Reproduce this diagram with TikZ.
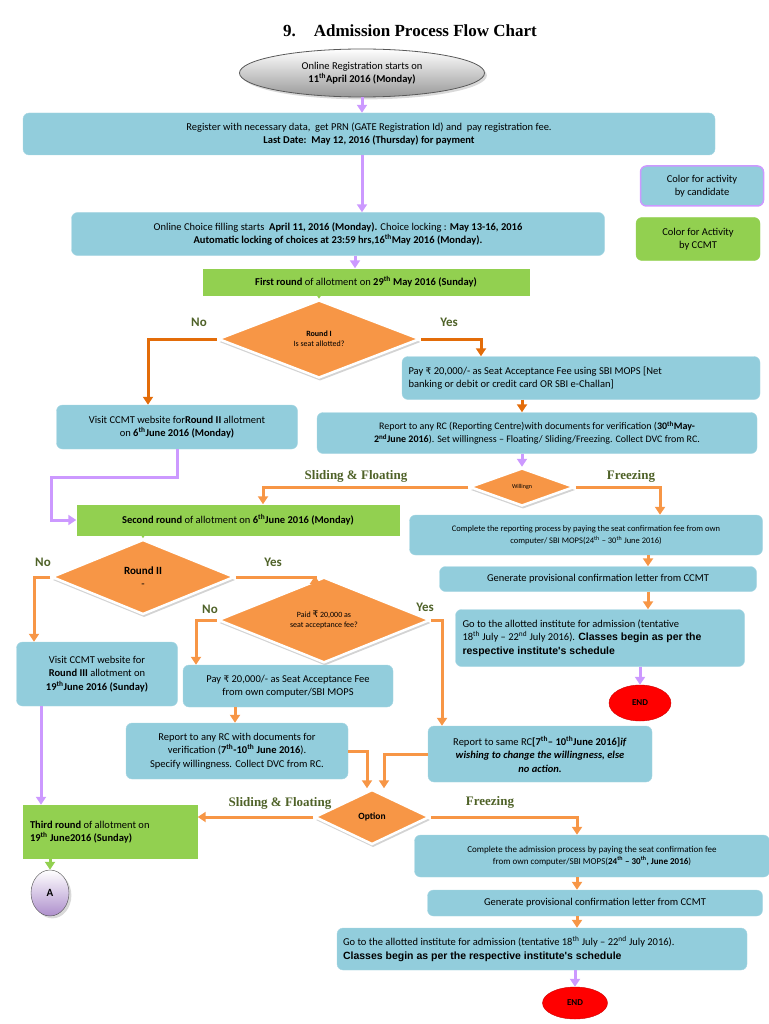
\documentclass[tikz,border=0pt]{standalone}
\usepackage{fontspec}
\setmainfont{Carlito}
\newfontfamily\serifb{Liberation Serif}
\newfontfamily\rup{DejaVu Sans}
\usetikzlibrary{shapes.geometric,shadows,arrows.meta}
\definecolor{boxc}{HTML}{92CDDC}
\definecolor{grn}{HTML}{92D050}
\definecolor{org}{HTML}{F79646}
\definecolor{dorg}{HTML}{E36C09}
\definecolor{pur}{HTML}{CC99FF}
\definecolor{olv}{HTML}{4F6228}
\newcommand{\Rs}{{\rup\small ₹}}
\begin{document}
\begin{tikzpicture}[x=1pt,y=-1pt,
  box/.style={rectangle,rounded corners=6pt,fill=boxc,draw=boxc!80!white,align=center,inner sep=2pt,font=\fontsize{10.5}{13.5}\selectfont},
  gbox/.style={rectangle,fill=grn,align=center,inner sep=2pt,font=\fontsize{10.5}{13.5}\selectfont\bfseries},
  dia/.style={diamond,fill=org,draw=white,line width=2.5pt,drop shadow={opacity=0.35,shadow xshift=1pt,shadow yshift=-3pt},align=center,inner sep=0pt,font=\fontsize{8}{10}\selectfont},
  arr/.style={line width=3pt,-{Triangle[length=8pt,width=10pt]}},
  oa/.style={arr,draw=org},
  da/.style={arr,draw=dorg},
  pa/.style={arr,draw=pur},
  ga/.style={arr,draw=grn},
  yn/.style={font=\fontsize{13}{15}\selectfont\bfseries,text=olv},
  sf/.style={font=\serifb\fontsize{13}{15}\selectfont\bfseries,text=olv}]
\useasboundingbox (0,0) rectangle (768,1024);
\node[font=\serifb\fontsize{17}{20}\selectfont\bfseries] (title) at (410,31) {9.\hspace{18pt}Admission Process Flow Chart};
\node[ellipse,minimum width=245pt,minimum height=48pt,draw=gray!70!black,thick,top color=white,bottom color=gray!80,shading angle=0,drop shadow={opacity=0.3},align=center,font=\fontsize{10.5}{13}\selectfont] (start) at (362,73) {Online Registration starts on\\\textbf{11\textsuperscript{th}April 2016 (Monday)}};
\node[box,minimum width=692pt,minimum height=42pt] (reg) at (369,134) {Register with necessary data,\ \ get PRN (GATE Registration Id) and\ \ pay registration fee.\\\textbf{Last Date:\ \ May 12, 2016 (Thursday) for payment}};
\node[box,draw=pur,line width=1.5pt,minimum width=123pt,minimum height=40pt] (leg1) at (702,186) {Color for activity\\by candidate};
\node[box,fill=grn,draw=grn,minimum width=124pt,minimum height=43pt] (leg2) at (698,239) {Color for Activity\\by CCMT};
\node[box,minimum width=533pt,minimum height=43pt] (choice) at (338,234) {Online Choice filling starts\ \ \textbf{April 11, 2016 (Monday). }Choice locking : \textbf{May 13-16, 2016}\\\textbf{Automatic locking of choices at 23:59 hrs,16\textsuperscript{th}May 2016 (Monday).}};
\node[gbox,minimum width=327pt,minimum height=27pt] (first) at (366,282) {First round {\mdseries of allotment on} 29\textsuperscript{th} May 2016 (Sunday)};
\node[dia,minimum width=202pt,minimum height=78pt] (d1) at (319,339) {\textbf{Round I}\\Is seat allotted?};
\node[box,minimum width=358pt,minimum height=43pt,align=left] (pay) at (581,378) {\parbox{345pt}{Pay \Rs\ 20,000/- as Seat Acceptance Fee using SBI MOPS [Net\\banking or debit or credit card OR SBI e-Challan]}};
\node[box,minimum width=241pt,minimum height=44pt] (visit2) at (177,427) {Visit CCMT website for\textbf{Round II} allotment\\on \textbf{6\textsuperscript{th}June 2016 (Monday)}};
\node[box,minimum width=440pt,minimum height=41pt,font=\fontsize{10}{13}\selectfont] (report) at (537,433) {Report to any RC (Reporting Centre)with documents for verification (\textbf{30\textsuperscript{th}May-}\\\textbf{2\textsuperscript{nd}June 2016}). Set willingness -- Floating/ Sliding/Freezing. Collect DVC\ from RC.};
\node[dia,minimum width=105pt,minimum height=38pt,font=\fontsize{6}{7}\selectfont] (dw) at (522,487) {Willingn};
\node[gbox,minimum width=323pt,minimum height=31pt] (second) at (238,520) {Second round {\mdseries of allotment on} 6\textsuperscript{th}June 2016 (Monday)};
\node[box,minimum width=353pt,minimum height=40pt,font=\fontsize{8.5}{11.5}\selectfont] (compR) at (586,535) {Complete the reporting process by paying the seat confirmation\ fee from own\\computer/ SBI MOPS(24\textsuperscript{th} -- 30\textsuperscript{th} June 2016)};
\node[box,minimum width=317pt,minimum height=25pt] (gen1) at (598,579) {Generate provisional confirmation letter from CCMT};
\node[box,minimum width=289pt,minimum height=57pt,align=left] (go1) at (600,638) {\parbox{275pt}{Go to the allotted institute for admission (tentative\\18\textsuperscript{th} July -- 22\textsuperscript{nd} July 2016). {\fontspec{Liberation Sans}\bfseries Classes begin as per the\\respective institute's schedule}}};
\node[ellipse,fill=red,draw=red!80!black,minimum width=62pt,minimum height=36pt,font=\fontsize{9}{11}\selectfont\bfseries] (end1) at (640,703) {END};
\node[dia,minimum width=183pt,minimum height=75pt,font=\fontsize{11}{13}\selectfont] (d2) at (143,577) {\textbf{Round II}\\-};
\node[dia,minimum width=212pt,minimum height=70pt] (dp) at (324,620) {Paid \Rs\ 20,000 as\\seat acceptance fee?};
\node[box,minimum width=161pt,minimum height=64pt] (visit3) at (97,674) {Visit CCMT website for\\\textbf{Round III} allotment on\\\textbf{19\textsuperscript{th}June 2016 (Sunday)}};
\node[box,minimum width=210pt,minimum height=42pt] (payb) at (288,686) {Pay \Rs\ 20,000/- as Seat Acceptance Fee\\from own computer/SBI MOPS};
\node[box,minimum width=222pt,minimum height=56pt] (repAny) at (237,751) {Report to any RC with documents for\\verification (\textbf{7\textsuperscript{th}-10\textsuperscript{th} June 2016}).\\Specify willingness. Collect DVC from RC.};
\node[box,minimum width=224pt,minimum height=56pt] (repSame) at (540,754) {Report to same RC\textbf{[7\textsuperscript{th}-- 10\textsuperscript{th}June 2016]}\textbf{\itshape if}\\\textbf{\itshape wishing to change the willingness, else}\\\textbf{\itshape no action.}};
\node[dia,minimum width=115pt,minimum height=55pt,font=\fontsize{9.5}{11}\selectfont\bfseries] (opt) at (372,817) {Option};
\node[gbox,minimum width=175pt,minimum height=54pt,align=left] (third) at (110,832) {\parbox{160pt}{Third round {\mdseries of allotment on}\\19\textsuperscript{th} June2016 (Sunday)}};
\node[ellipse,draw=gray!60!black,top color=white,bottom color=pur!60!gray,minimum width=38pt,minimum height=46pt,drop shadow={opacity=0.3},font=\fontsize{11}{13}\selectfont\bfseries] (A) at (50,893) {A};
\node[box,minimum width=355pt,minimum height=42pt,font=\fontsize{9}{12}\selectfont] (compA) at (592,856) {Complete the admission process by paying the seat confirmation fee\\from own computer/SBI MOPS(\textbf{24\textsuperscript{th} -- 30\textsuperscript{th}, June 2016})};
\node[box,minimum width=335pt,minimum height=26pt] (gen2) at (595,903) {Generate provisional confirmation letter from CCMT};
\node[box,minimum width=410pt,minimum height=42pt,align=left] (go2) at (542,949) {\parbox{398pt}{Go to the allotted institute for admission (tentative 18\textsuperscript{th} July -- 22\textsuperscript{nd} July 2016).\\{\fontspec{Liberation Sans}\bfseries Classes begin as per the respective institute's schedule}}};
\node[ellipse,fill=red,draw=red!80!black,minimum width=65pt,minimum height=32pt,font=\fontsize{9}{11}\selectfont\bfseries] (end2) at (575,1003) {END};
% labels
\node[yn] (n1) at (199,322) {No};
\node[yn] (y1) at (449,322) {Yes};
\node[sf] (s1) at (356,476) {Sliding \& Floating};
\node[sf] (f1) at (631,476) {Freezing};
\node[yn] (n2) at (43,562) {No};
\node[yn] (y2) at (273,562) {Yes};
\node[yn] (n3) at (210,609) {No};
\node[yn] (y3) at (425,607) {Yes};
\node[sf] (s2) at (280,803) {Sliding \& Floating};
\node[sf] (f2) at (490,802) {Freezing};
% connectors
\draw[pa] (start.south) -- (start.south |- reg.north);
\draw[pa] ([xshift=-7pt]reg.south) -- ([xshift=-7pt]reg.south |- choice.north);
\draw[pa] ([xshift=17pt]choice.south) -- ([xshift=-11pt]first.north);
\draw[ga] (first.south -| d1.north) -- (d1.north);
\draw[da] (d1.west) -| ([xshift=-29pt]visit2.north);
\draw[da] (d1.east) -| ([xshift=-100pt]pay.north);
\draw[da] ([xshift=-59pt]pay.south) -- ([xshift=-15pt]report.north);
\draw[pa] (report.south -| dw.north) -- (dw.north);
\draw[oa] (dw.west) -| ([xshift=25pt]second.north);
\draw[oa] (dw.east) -| ([xshift=74pt]compR.north);
\draw[pa] (visit2.south) -- ++(0,28) -| ([xshift=-25pt]second.west) -- (second.west);
\draw[ga] (second.south -| d2.north) -- (d2.north);
\draw[oa] (d2.west) -| ([xshift=-63pt]visit3.north);
\draw[oa] (d2.east) -| ([xshift=-9pt]dp.north);
\draw[oa] (dp.west) -| ([xshift=-92pt]payb.north);
\draw[oa] (dp.east) -| ([xshift=-98pt]repSame.north);
\draw[oa] ([xshift=-53pt]payb.south) -- ([xshift=-2pt]repAny.north);
\draw[oa] (repAny.east) -| ([xshift=-5pt]opt.north);
\draw[oa] (repSame.west) -| ([xshift=12pt]opt.north);
\draw[pa] ([xshift=-56pt]visit3.south) -- ([xshift=-56pt]visit3.south |- third.north);
\draw[oa] (opt.west) -- (opt.west -| third.east);
\draw[ga] (third.south -| A.north) -- (A.north);
\draw[oa] (opt.east) -| ([xshift=-15pt]compA.north);
\draw[oa] ([xshift=-15pt]compA.south) -- ([xshift=-18pt]gen2.north);
\draw[oa] ([xshift=-18pt]gen2.south) -- ([xshift=35pt]go2.north);
\draw[pa] (go2.south -| end2.north) -- (end2.north);
\draw[oa] ([xshift=62pt]compR.south) -- ([xshift=50pt]gen1.north);
\draw[oa] ([xshift=50pt]gen1.south) -- ([xshift=48pt]go1.north);
\draw[pa] (go1.south -| end1.north) -- (end1.north);
\end{tikzpicture}
\end{document}
